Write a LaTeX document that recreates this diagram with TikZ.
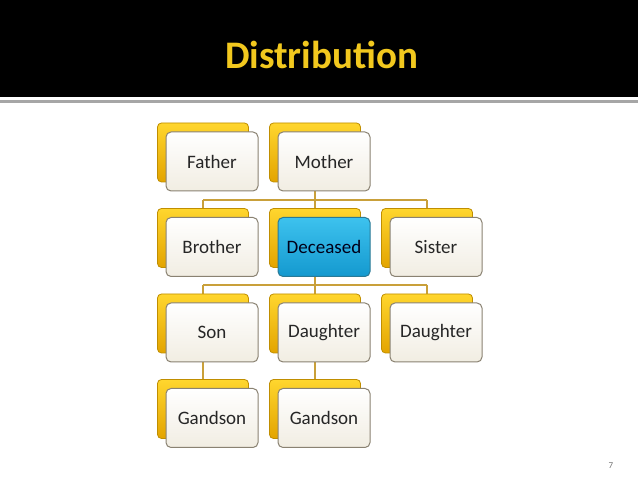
\documentclass[tikz,border=0pt]{standalone}
\usepackage{fontspec}
\setmainfont{Carlito}
\usetikzlibrary{backgrounds,calc}
\definecolor{titleyellow}{HTML}{F2C81E}
\definecolor{conncol}{HTML}{C9A03A}
\definecolor{backdraw}{HTML}{C08E00}
\definecolor{backtop}{HTML}{FFD62E}
\definecolor{backbot}{HTML}{E3A400}
\definecolor{frontdraw}{HTML}{8A8272}
\definecolor{frontbot}{HTML}{F1EDE2}
\definecolor{decdraw}{HTML}{2A7A96}
\definecolor{dectop}{HTML}{3DC2EE}
\definecolor{decbot}{HTML}{1499CF}
\tikzset{
  backbox/.style={rounded corners=4pt, draw=backdraw, line width=0.8pt,
    top color=backtop, bottom color=backbot, minimum width=91pt, minimum height=59pt, inner sep=0pt},
  frontbox/.style={rounded corners=5pt, draw=frontdraw, line width=1pt,
    top color=white, bottom color=frontbot, minimum width=92pt, minimum height=59pt, inner sep=0pt,
    font=\fontsize{19}{21}\selectfont, text=black!85},
  decbox/.style={frontbox, draw=decdraw, top color=dectop, bottom color=decbot, text=black!90!blue},
  conn/.style={draw=conncol, line width=1.8pt},
}
\newcommand{\famnode}[5]{%
  \node[backbox] (#1B) at (#2-9,#3-9) {};
  \node[#5] (#1) at (#2,#3) {#4};}
\begin{document}
\begin{tikzpicture}[x=1pt,y=-1pt]
\useasboundingbox (0,0) rectangle (638,478);
\node[font=\fontsize{39}{40}\selectfont\bfseries, text=titleyellow] (title) at (321.5,55) {Distribution};
\node[font=\fontsize{9}{10}\selectfont, text=black!55] (page) at (611,466) {7};
% nodes
\famnode{father}{212}{161.5}{Father}{frontbox}
\famnode{mother}{324}{161.5}{Mother}{frontbox}
\famnode{brother}{212}{247}{Brother}{frontbox}
\famnode{deceased}{324}{247}{Deceased}{decbox}
\famnode{sister}{436}{247}{Sister}{frontbox}
\famnode{son}{212}{332.5}{Son}{frontbox}
\famnode{daughterA}{324}{332.5}{Daughter}{frontbox}
\famnode{daughterB}{436}{332.5}{Daughter}{frontbox}
\famnode{gandsonA}{212}{418}{Gandson}{frontbox}
\famnode{gandsonB}{324}{418}{Gandson}{frontbox}
\coordinate (busA) at (0,200);
\coordinate (busB) at (0,285);
\begin{scope}[on background layer]
  \fill[white] (0,0) rectangle (638,478);
  \fill[black] (0,0) rectangle (638,97);
  \fill[black!35] (0,100.5) rectangle (638,103.5);
  \draw[conn] (mother.south -| motherB) -- (busA -| motherB);
  \draw[conn] (busA -| brotherB) -- (busA -| sisterB);
  \draw[conn] (busA -| brotherB) -- (brotherB.north);
  \draw[conn] (busA -| deceasedB) -- (deceasedB.north);
  \draw[conn] (busA -| sisterB) -- (sisterB.north);
  \draw[conn] (deceased.south -| deceasedB) -- (busB -| deceasedB);
  \draw[conn] (busB -| sonB) -- (busB -| daughterBB);
  \draw[conn] (busB -| sonB) -- (sonB.north);
  \draw[conn] (busB -| daughterAB) -- (daughterAB.north);
  \draw[conn] (busB -| daughterBB) -- (daughterBB.north);
  \draw[conn] (son.south -| sonB) -- (gandsonAB.north);
  \draw[conn] (daughterA.south -| daughterAB) -- (gandsonBB.north);
\end{scope}
\end{tikzpicture}
\end{document}
